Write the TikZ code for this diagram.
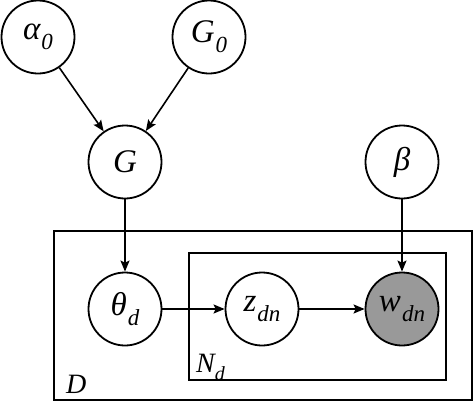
\documentclass[tikz,border=0pt]{standalone}
\usepackage{fontspec}
\setmainfont{Liberation Serif}
\usetikzlibrary{arrows.meta}
\newcommand{\lbl}[2]{\fontsize{33}{33}\selectfont\itshape #1\kern1pt\raisebox{-0.3em}{\fontsize{23}{23}\selectfont\itshape #2}}
\begin{document}
\begin{tikzpicture}[x=1pt,y=-1pt,
  var/.style={circle,draw,line width=1.8pt,minimum size=73pt,inner sep=0pt},
  obs/.style={var,fill=black!40},
  plate/.style={draw,line width=1.8pt},
  conn/.style={line width=1.6pt,-{Stealth[length=11pt,width=9pt,inset=2pt]}},
  lab/.style={font=\fontsize{28}{28}\selectfont\itshape,inner sep=0pt}]
\useasboundingbox (0,0) rectangle (474,402);
\node[var] (a0) at (38,37) {\lbl{α}{0}};
\node[var] (g0) at (209,37) {\lbl{G}{0}};
\node[var] (g) at (125,162) {\fontsize{33}{33}\selectfont\itshape G};
\node[var] (beta) at (402,162) {\fontsize{33}{33}\selectfont\itshape β};
\node[var] (theta) at (125,309) {\lbl{θ}{d}};
\node[var] (z) at (262,309) {\lbl{z}{dn}};
\node[obs] (w) at (402,309) {\lbl{w}{dn}};
\draw[plate] (54,231) rectangle (472,400);
\draw[plate] (189,253) rectangle (446,380);
\node[lab,anchor=base west] (dlab) at (66,393) {D};
\node[lab,anchor=base west] (nlab) at (196,372) {N\raisebox{-0.3em}{\fontsize{20}{20}\selectfont\itshape d}};
\draw[conn] (a0) -- (g);
\draw[conn] (g0) -- (g);
\draw[conn] (g) -- (theta);
\draw[conn] (theta) -- (z);
\draw[conn] (z) -- (w);
\draw[conn] (beta) -- (w);
\end{tikzpicture}
\end{document}
